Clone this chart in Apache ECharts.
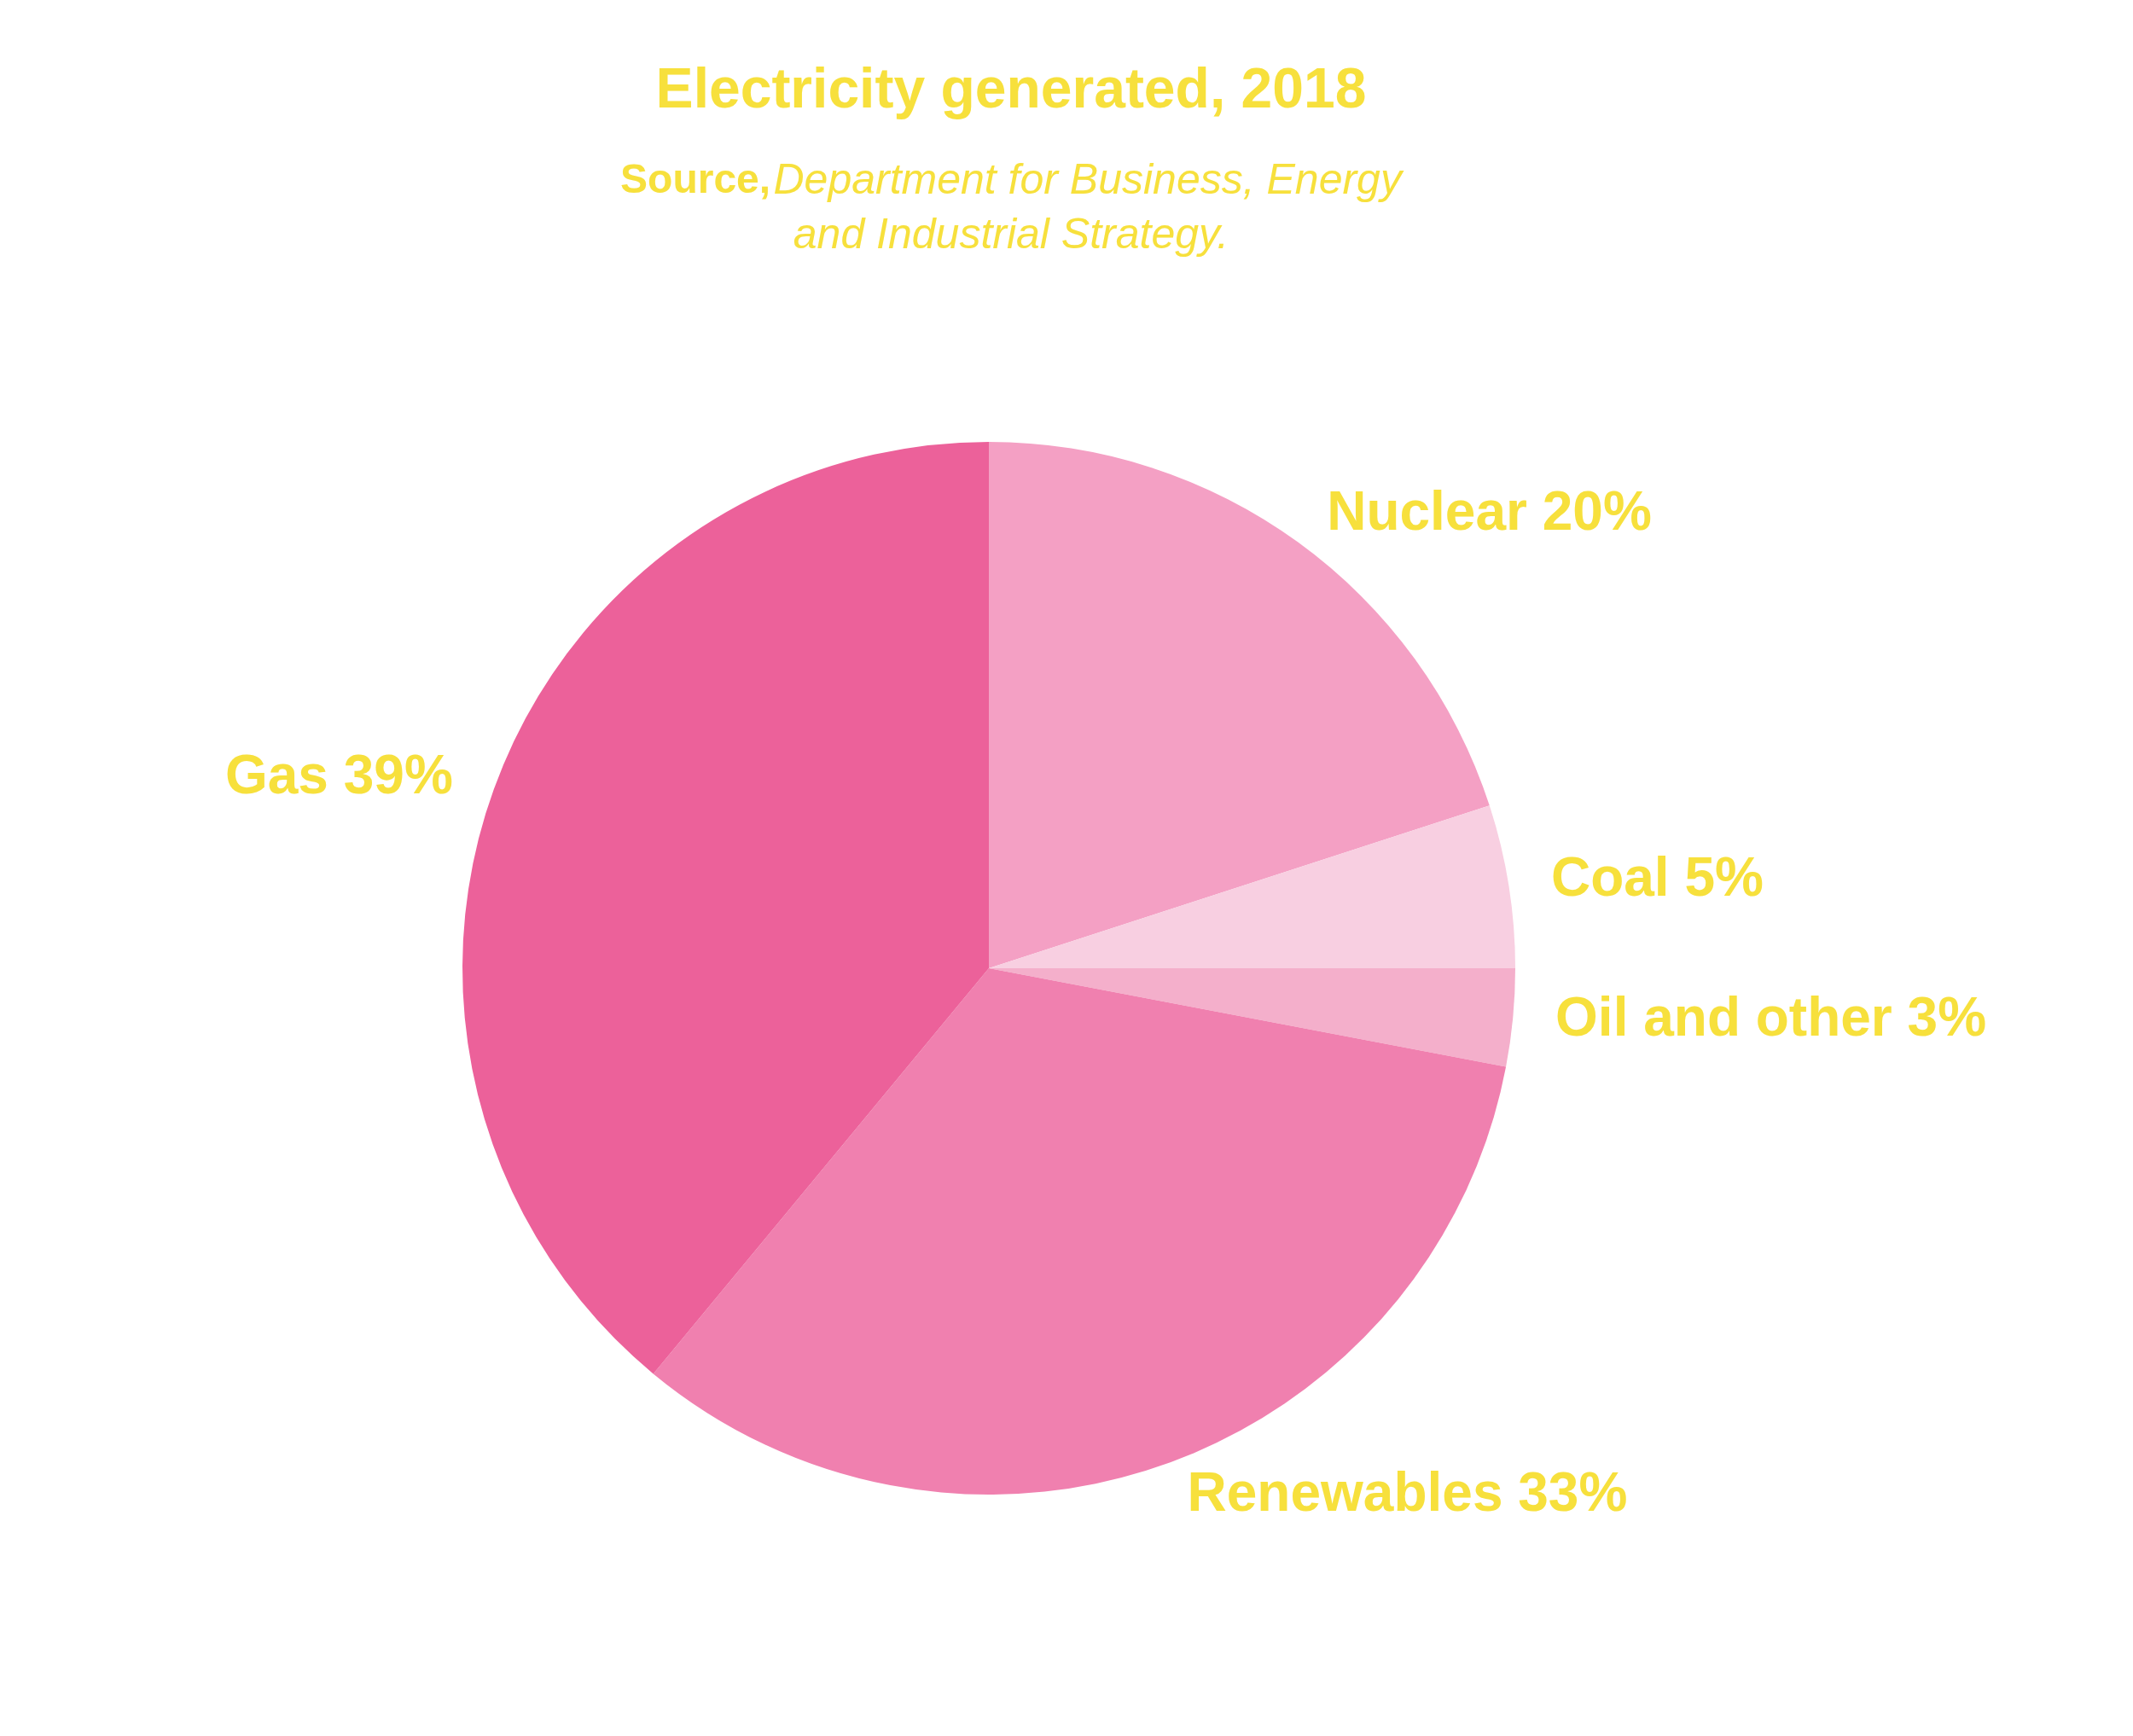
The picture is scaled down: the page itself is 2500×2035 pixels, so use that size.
<!DOCTYPE html>
<html>
<head>
<meta charset="utf-8">
<title>Electricity generated, 2018</title>
<style>
html, body { margin: 0; width: 100%; height: 100%; background: #fff; overflow: hidden; }
#chart { width: 2500px; height: 2035px; }
</style>
</head>
<body>
<div id="chart"></div>
<script src="https://cdn.jsdelivr.net/npm/echarts@6/dist/echarts.min.js"></script>
<script>
var categories = ['Nuclear', 'Coal', 'Oil and other', 'Renewables', 'Gas'];
var shares = [20, 5, 3, 33, 39];
var colors = ['#F4A0C4', '#F8CFE1', '#F4AFCB', '#F080AF', '#EC619A'];

var yellow = '#F7E03C';
var font = '"Liberation Sans", Arial, sans-serif';

var chart = echarts.init(document.getElementById('chart'));
chart.setOption({
    backgroundColor: '#fff',
    title: {
        text: 'Electricity generated, 2018',
        left: 1180,
        top: 70,
        textAlign: 'center',
        itemGap: 40,
        textStyle: { color: yellow, fontSize: 66, fontWeight: 'bold', fontFamily: font },
        subtext: '{b|Source,} {i|Department for Business, Energy}\n{i|and Industrial Strategy.}',
        subtextStyle: {
            align: 'center',
            lineHeight: 64,
            rich: {
                b: { color: yellow, fontSize: 48, fontWeight: 'bold', fontFamily: font },
                i: { color: yellow, fontSize: 50, fontStyle: 'italic', fontFamily: font }
            }
        }
    },
    series: [{
        type: 'pie',
        center: [1159, 1135],
        radius: [0, 617],
        startAngle: 90,
        clockwise: true,
        avoidLabelOverlap: false,
        data: categories.map(function (c, i) {
            return { name: c, value: shares[i], itemStyle: { color: colors[i] } };
        }),
        label: {
            show: true,
            position: 'outside',
            formatter: '{b} {c}%',
            color: yellow,
            fontSize: 64,
            fontWeight: 'bold',
            fontFamily: font,
            distanceToLabelLine: 0
        },
        labelLine: { show: false, length: 40, length2: 10 },
        emphasis: { disabled: true }
    }]
});
</script>
</body>
</html>
